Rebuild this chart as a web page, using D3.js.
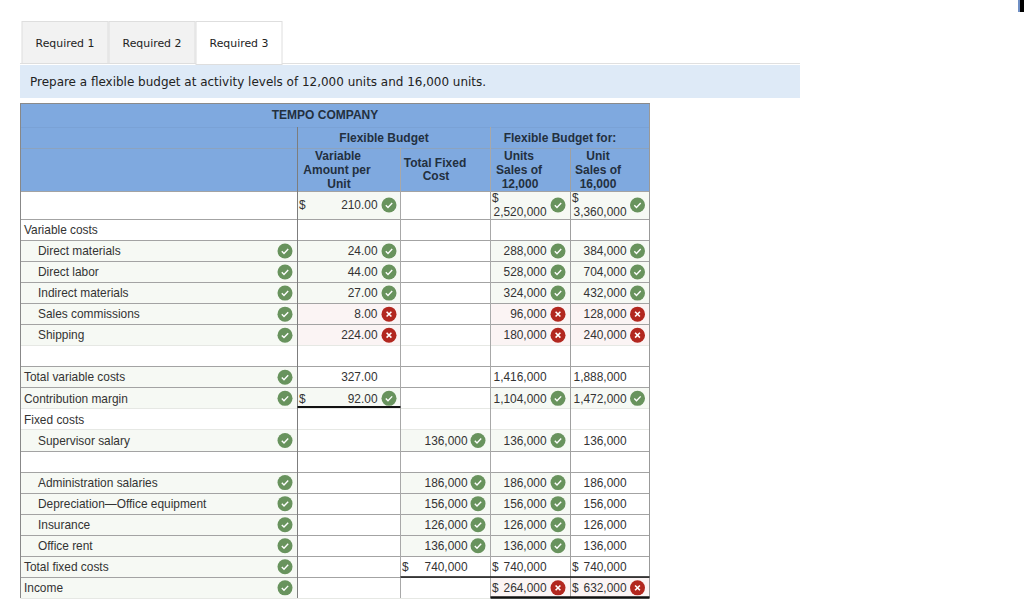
<!DOCTYPE html>
<html>
<head>
<meta charset="utf-8">
<script src="https://cdn.jsdelivr.net/npm/d3@7"></script>
<style>
  html, body { margin: 0; background: #fff; }
  svg { display: block; }
  text { font-family: "Liberation Sans", Arial, sans-serif; font-size: 11.9px; fill: #333; }
  .ui { font-family: "DejaVu Sans", Verdana, sans-serif; fill: #222; }
  .head { font-weight: bold; fill: #23303f; font-size: 12px; }
</style>
</head>
<body>
<div id="chart"></div>
<script>
'use strict';

const tabs = ['Required 1', 'Required 2', 'Required 3'];
const prompt = 'Prepare a flexible budget at activity levels of 12,000 units and 16,000 units.';
const title = 'TEMPO COMPANY';

const rows = ['Variable costs', 'Direct materials', 'Direct labor', 'Indirect materials',
    'Sales commissions', 'Shipping', '', 'Total variable costs', 'Contribution margin',
    'Fixed costs', 'Supervisor salary', ' ', 'Administration salaries',
    'Depreciation\u2014Office equipment', 'Insurance', 'Office rent', 'Total fixed costs', 'Income'];
const indented = [0, 1, 1, 1, 1, 1, 0, 0, 0, 0, 1, 0, 1, 1, 1, 1, 0, 0];
const labelMarks = ['', 'ok', 'ok', 'ok', 'ok', 'ok', '', 'ok', 'ok', '', 'ok', '', 'ok', 'ok', 'ok', 'ok', 'ok', 'ok'];

const perUnit = ['', '24.00', '44.00', '27.00', '8.00', '224.00', '', '327.00', '92.00', '', '', '', '', '', '', '', '', ''];
const perUnitMarks = ['', 'ok', 'ok', 'ok', 'bad', 'bad', '', '', 'ok', '', '', '', '', '', '', '', '', ''];
const fixedCost = ['', '', '', '', '', '', '', '', '', '', '136,000', '', '186,000', '156,000', '126,000', '136,000', '740,000', ''];
const fixedMarks = ['', '', '', '', '', '', '', '', '', '', 'ok', '', 'ok', 'ok', 'ok', 'ok', '', ''];
const units12 = ['', '288,000', '528,000', '324,000', '96,000', '180,000', '', '1,416,000', '1,104,000', '', '136,000', '', '186,000', '156,000', '126,000', '136,000', '740,000', '264,000'];
const marks12 = ['', 'ok', 'ok', 'ok', 'bad', 'bad', '', '', 'ok', '', 'ok', '', 'ok', 'ok', 'ok', 'ok', '', 'bad'];
const units16 = ['', '384,000', '704,000', '432,000', '128,000', '240,000', '', '1,888,000', '1,472,000', '', '136,000', '', '186,000', '156,000', '126,000', '136,000', '740,000', '632,000'];
const marks16 = ['', 'ok', 'ok', 'ok', 'bad', 'bad', '', '', 'ok', '', '', '', '', '', '', '', '', 'bad'];
const dollarRows = { perUnit: [8], fixed: [16], u12: [16, 17], u16: [16, 17] };

const salesCol = ['perUnit', 'fixed', 'u12', 'u16'];
const salesRow = ['210.00', '', '2,520,000', '3,360,000'];
const salesMarks = ['ok', '', 'ok', 'ok'];

const width = 1024;
const height = 613;
const colKeys = ['label', 'perUnit', 'fixed', 'u12', 'u16', 'end'];

const x = d3.scaleOrdinal().domain(colKeys).range([20.5, 297.5, 400.5, 490.5, 570.5, 649.5]);
const y = d3.scaleBand().domain(rows).range([219.4, 598.4]);
const textEnd = d3.scaleOrdinal().domain(colKeys).range([0, 377.5, 467.5, 546.5, 626.5, 0]);
const markX = d3.scaleOrdinal().domain(colKeys).range([285, 389, 478, 558, 637.5, 0]);
const statusColor = d3.scaleOrdinal().domain(['ok', 'bad']).range(['#68935d', '#b2271f']);
const statusFill = d3.scaleOrdinal().domain(['', 'ok', 'bad']).range(['#fff', '#f6f9f4', '#fbf4f4']);

const svg = d3.select('#chart').append('svg')
    .attr('width', width)
    .attr('height', height)
    .attr('viewBox', `0 0 ${width} ${height}`);

// corner speck in the screenshot
svg.append('rect').attr('x', 1020).attr('y', 0).attr('width', 4).attr('height', 12).attr('fill', '#000');
svg.append('rect').attr('x', 1018).attr('y', 0).attr('width', 2).attr('height', 12).attr('fill', '#6f8fc4');

// tabs
const tabX = d3.scaleBand().domain(tabs).range([21.5, 282.5]);
svg.append('line').attr('x1', 20).attr('x2', 800).attr('y1', 63.5).attr('y2', 63.5).attr('stroke', '#e0e0e0');
svg.selectAll('rect.tab').data(tabs).join('rect')
    .attr('class', 'tab')
    .attr('x', d => tabX(d) + 0.5)
    .attr('y', 21.5)
    .attr('width', tabX.bandwidth() - 1)
    .attr('height', d => d === 'Required 3' ? 43 : 42)
    .attr('fill', d => d === 'Required 3' ? '#fff' : '#f2f2f2')
    .attr('stroke', '#dedede');
svg.selectAll('text.tabLabel').data(tabs).join('text')
    .attr('class', 'tabLabel ui')
    .attr('x', d => tabX(d) + tabX.bandwidth() / 2)
    .attr('y', 47)
    .attr('text-anchor', 'middle')
    .style('font-size', '10.9px')
    .text(d => d);

// prompt band
svg.append('rect').attr('x', 20).attr('y', 65).attr('width', 780).attr('height', 33).attr('fill', '#deeaf7');
svg.append('text').attr('class', 'ui').attr('x', 30).attr('y', 86).style('font-size', '11.97px').text(prompt);

// header block
svg.append('rect').attr('x', 20.5).attr('y', 103.5).attr('width', 629).attr('height', 88).attr('fill', '#7fa9df');

const table = svg.append('g');
const ruleY = v => Math.floor(v) + 0.5;

// cell tints
function tint(col, marks) {
    table.append('g').selectAll('rect').data(rows).join('rect')
        .attr('x', x(col))
        .attr('y', d => y(d))
        .attr('width', x(colKeys[colKeys.indexOf(col) + 1]) - x(col))
        .attr('height', y.bandwidth())
        .attr('fill', (d, i) => statusFill(marks[i]));
}
tint('label', labelMarks);
tint('perUnit', perUnitMarks);
tint('fixed', fixedMarks);
tint('u12', marks12);
tint('u16', marks16);
table.append('g').selectAll('rect').data(salesCol).join('rect')
    .attr('x', d => x(d))
    .attr('y', 191.5)
    .attr('width', d => x(colKeys[colKeys.indexOf(d) + 1]) - x(d))
    .attr('height', 28)
    .attr('fill', (d, i) => statusFill(salesMarks[i]));

// row rules
const faintRules = ['Shipping', 'Contribution margin', 'Fixed costs', 'Income'];
table.append('g').selectAll('line').data(rows).join('line')
    .attr('x1', x('label'))
    .attr('x2', x('end'))
    .attr('y1', d => ruleY(y(d) + y.bandwidth()))
    .attr('y2', d => ruleY(y(d) + y.bandwidth()))
    .attr('stroke', d => faintRules.includes(d) ? '#e6e8e4' : '#a3a3a3');
table.append('line').attr('x1', x('label')).attr('x2', x('end')).attr('y1', 219.5).attr('y2', 219.5).attr('stroke', '#a3a3a3');
table.append('line').attr('x1', x('label')).attr('x2', x('end')).attr('y1', 191.5).attr('y2', 191.5).attr('stroke', '#a3a3a3');

// header rules
const headRules = [
    { x1: 'label', x2: 'end', y: 127.5, color: '#7aa2d6' },
    { x1: 'label', x2: 'end', y: 148.5, color: '#8ca3bf' }
];
table.append('g').selectAll('line').data(headRules).join('line')
    .attr('x1', d => x(d.x1)).attr('x2', d => x(d.x2))
    .attr('y1', d => d.y).attr('y2', d => d.y)
    .attr('stroke', d => d.color);

// column rules
const colRules = [
    { col: 'label', top: 103.5, color: '#888' },
    { col: 'perUnit', top: 127, color: '#7d7d7d' },
    { col: 'fixed', top: 148, color: '#a8a8a8' },
    { col: 'u12', top: 127, color: '#a8a8a8' },
    { col: 'u16', top: 148, color: '#a0a0a0' },
    { col: 'end', top: 103.5, color: '#999' }
];
table.append('g').selectAll('line').data(colRules).join('line')
    .attr('x1', d => x(d.col)).attr('x2', d => x(d.col))
    .attr('y1', d => d.top).attr('y2', 598)
    .attr('stroke', d => d.color);
table.append('line').attr('x1', 20).attr('x2', 650).attr('y1', 103.5).attr('y2', 103.5).attr('stroke', '#8a8a8a');

// total underlines
const totals = [
    { from: 'perUnit', to: 'fixed', row: 'Contribution margin', w: 2, up: 1.5 },
    { from: 'fixed', to: 'end', row: 'Total fixed costs', w: 1.5, up: 0.5 },
    { from: 'u12', to: 'end', row: 'Income', w: 2.5, up: 1 }
];
table.append('g').selectAll('line').data(totals).join('line')
    .attr('x1', d => x(d.from)).attr('x2', d => x(d.to))
    .attr('y1', d => ruleY(y(d.row) + y.bandwidth()) - d.up)
    .attr('y2', d => ruleY(y(d.row) + y.bandwidth()) - d.up)
    .attr('stroke', '#111')
    .attr('stroke-width', d => d.w);

// header text
const headCells = [
    { text: title, cx: 325, cy: 115 },
    { text: 'Flexible Budget', cx: 384, cy: 137.5 },
    { text: 'Flexible Budget for:', cx: 560, cy: 137.5 },
    { text: 'Variable', cx: 338, cy: 156 },
    { text: 'Amount per', cx: 337, cy: 170 },
    { text: 'Unit', cx: 339, cy: 183.5 },
    { text: 'Total Fixed', cx: 435, cy: 162.5 },
    { text: 'Cost', cx: 436, cy: 176 },
    { text: 'Units', cx: 519, cy: 156 },
    { text: 'Sales of', cx: 519, cy: 170 },
    { text: '12,000', cx: 520, cy: 183.5 },
    { text: 'Unit', cx: 598, cy: 156 },
    { text: 'Sales of', cx: 598, cy: 170 },
    { text: '16,000', cx: 598, cy: 183.5 }
];
table.append('g').selectAll('text').data(headCells).join('text')
    .attr('class', 'head')
    .attr('x', d => d.cx)
    .attr('y', d => d.cy)
    .attr('dy', '0.35em')
    .attr('text-anchor', 'middle')
    .text(d => d.text);

// row labels
table.append('g').selectAll('text').data(rows).join('text')
    .attr('x', (d, i) => indented[i] ? 38 : 24)
    .attr('y', d => y(d) + y.bandwidth() / 2)
    .attr('dy', '0.35em')
    .text(d => d);

function valueColumn(col, values) {
    table.append('g').selectAll('text').data(rows).join('text')
        .attr('x', textEnd(col))
        .attr('y', d => y(d) + y.bandwidth() / 2)
        .attr('dy', '0.35em')
        .attr('text-anchor', 'end')
        .text((d, i) => values[i]);
    // dollar signs sit at the left of the cell
    table.append('g').selectAll('text').data(dollarRows[col]).join('text')
        .attr('x', x(col) + 1.5)
        .attr('y', d => y(rows[d]) + y.bandwidth() / 2)
        .attr('dy', '0.35em')
        .text('$');
}
valueColumn('perUnit', perUnit);
valueColumn('fixed', fixedCost);
valueColumn('u12', units12);
valueColumn('u16', units16);

// sales row sits above the table body, with wrapped $ in the two wide columns
table.append('g').selectAll('text').data(salesCol).join('text')
    .attr('x', d => textEnd(d))
    .attr('y', d => (d === 'perUnit' ? 205 : 212))
    .attr('dy', '0.35em')
    .attr('text-anchor', 'end')
    .text((d, i) => salesRow[i]);
table.append('g').selectAll('text').data(['perUnit', 'u12', 'u16']).join('text')
    .attr('x', d => x(d) + 1.5)
    .attr('y', d => (d === 'perUnit' ? 205 : 197.5))
    .attr('dy', '0.35em')
    .text('$');

// status badges
const checkPath = 'M-3.2,0.2 L-1,2.4 L3.2,-2';
const crossPath = 'M-2.4,-2.4 L2.4,2.4 M2.4,-2.4 L-2.4,2.4';
function badge(sel) {
    sel.append('circle').attr('r', 7.5).attr('fill', d => statusColor(d.status));
    sel.append('path')
        .attr('d', d => d.status === 'ok' ? checkPath : crossPath)
        .attr('fill', 'none')
        .attr('stroke', '#fff')
        .attr('stroke-width', d => d.status === 'ok' ? 1.4 : 1.6);
}
function markColumn(col, marks) {
    const g = table.append('g').selectAll('g')
        .data(rows.map((r, i) => ({ row: r, status: marks[i] })).filter(d => d.status))
        .join('g')
        .attr('transform', d => `translate(${markX(col)},${y(d.row) + y.bandwidth() / 2})`);
    badge(g);
}
markColumn('label', labelMarks);
markColumn('perUnit', perUnitMarks);
markColumn('fixed', fixedMarks);
markColumn('u12', marks12);
markColumn('u16', marks16);

const salesBadges = table.append('g').selectAll('g')
    .data(salesCol.map((c, i) => ({ col: c, status: salesMarks[i] })).filter(d => d.status))
    .join('g')
    .attr('transform', d => `translate(${markX(d.col)},205)`);
badge(salesBadges);
</script>
</body>
</html>
